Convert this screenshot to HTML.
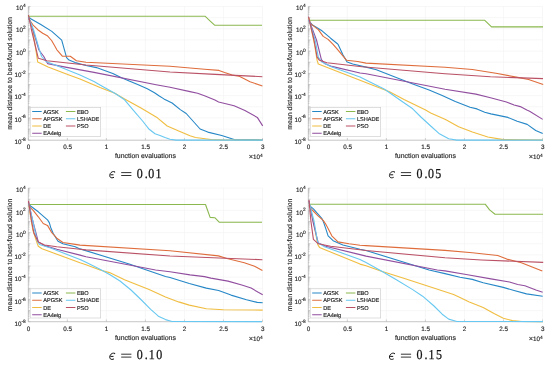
<!DOCTYPE html>
<html><head><meta charset="utf-8"><style>
html,body{margin:0;padding:0;background:#fff;}
svg{display:block;will-change:transform;text-rendering:geometricPrecision;font-family:"Liberation Sans",sans-serif;}
text{stroke:#262626;stroke-width:0.15px;}
</style></head><body>
<svg width="550" height="366" viewBox="0 0 550 366">
<rect width="550" height="366" fill="#fff"/>
<line x1="28.3" y1="6.5" x2="28.3" y2="140.2" stroke="#f2f2f2" stroke-width="0.6"/>
<line x1="67.33" y1="6.5" x2="67.33" y2="140.2" stroke="#f2f2f2" stroke-width="0.6"/>
<line x1="106.37" y1="6.5" x2="106.37" y2="140.2" stroke="#f2f2f2" stroke-width="0.6"/>
<line x1="145.4" y1="6.5" x2="145.4" y2="140.2" stroke="#f2f2f2" stroke-width="0.6"/>
<line x1="184.43" y1="6.5" x2="184.43" y2="140.2" stroke="#f2f2f2" stroke-width="0.6"/>
<line x1="223.47" y1="6.5" x2="223.47" y2="140.2" stroke="#f2f2f2" stroke-width="0.6"/>
<line x1="262.5" y1="6.5" x2="262.5" y2="140.2" stroke="#f2f2f2" stroke-width="0.6"/>
<line x1="28.3" y1="6.5" x2="262.5" y2="6.5" stroke="#f2f2f2" stroke-width="0.6"/>
<line x1="28.3" y1="17.64" x2="262.5" y2="17.64" stroke="#f2f2f2" stroke-width="0.6"/>
<line x1="28.3" y1="28.78" x2="262.5" y2="28.78" stroke="#f2f2f2" stroke-width="0.6"/>
<line x1="28.3" y1="39.92" x2="262.5" y2="39.92" stroke="#f2f2f2" stroke-width="0.6"/>
<line x1="28.3" y1="51.07" x2="262.5" y2="51.07" stroke="#f2f2f2" stroke-width="0.6"/>
<line x1="28.3" y1="62.21" x2="262.5" y2="62.21" stroke="#f2f2f2" stroke-width="0.6"/>
<line x1="28.3" y1="73.35" x2="262.5" y2="73.35" stroke="#f2f2f2" stroke-width="0.6"/>
<line x1="28.3" y1="84.49" x2="262.5" y2="84.49" stroke="#f2f2f2" stroke-width="0.6"/>
<line x1="28.3" y1="95.63" x2="262.5" y2="95.63" stroke="#f2f2f2" stroke-width="0.6"/>
<line x1="28.3" y1="106.77" x2="262.5" y2="106.77" stroke="#f2f2f2" stroke-width="0.6"/>
<line x1="28.3" y1="117.92" x2="262.5" y2="117.92" stroke="#f2f2f2" stroke-width="0.6"/>
<line x1="28.3" y1="129.06" x2="262.5" y2="129.06" stroke="#f2f2f2" stroke-width="0.6"/>
<line x1="28.3" y1="140.2" x2="262.5" y2="140.2" stroke="#f2f2f2" stroke-width="0.6"/>
<path d="M28.3 6.5V140.2H262.5" fill="none" stroke="#a8a8a8" stroke-width="0.6"/>
<path d="M28.3 17.64h2.2M28.3 14.29h1.2M28.3 12.33h1.2M28.3 10.93h1.2M28.3 9.85h1.2M28.3 8.97h1.2M28.3 8.23h1.2M28.3 7.58h1.2M28.3 7.01h1.2M28.3 28.78h2.2M28.3 25.43h1.2M28.3 23.47h1.2M28.3 22.08h1.2M28.3 21h1.2M28.3 20.11h1.2M28.3 19.37h1.2M28.3 18.72h1.2M28.3 18.15h1.2M28.3 39.92h2.2M28.3 36.57h1.2M28.3 34.61h1.2M28.3 33.22h1.2M28.3 32.14h1.2M28.3 31.26h1.2M28.3 30.51h1.2M28.3 29.86h1.2M28.3 29.29h1.2M28.3 51.07h2.2M28.3 47.71h1.2M28.3 45.75h1.2M28.3 44.36h1.2M28.3 43.28h1.2M28.3 42.4h1.2M28.3 41.65h1.2M28.3 41h1.2M28.3 40.43h1.2M28.3 62.21h2.2M28.3 58.85h1.2M28.3 56.89h1.2M28.3 55.5h1.2M28.3 54.42h1.2M28.3 53.54h1.2M28.3 52.79h1.2M28.3 52.15h1.2M28.3 51.58h1.2M28.3 73.35h2.2M28.3 70h1.2M28.3 68.03h1.2M28.3 66.64h1.2M28.3 65.56h1.2M28.3 64.68h1.2M28.3 63.93h1.2M28.3 63.29h1.2M28.3 62.72h1.2M28.3 84.49h2.2M28.3 81.14h1.2M28.3 79.18h1.2M28.3 77.78h1.2M28.3 76.7h1.2M28.3 75.82h1.2M28.3 75.08h1.2M28.3 74.43h1.2M28.3 73.86h1.2M28.3 95.63h2.2M28.3 92.28h1.2M28.3 90.32h1.2M28.3 88.93h1.2M28.3 87.85h1.2M28.3 86.96h1.2M28.3 86.22h1.2M28.3 85.57h1.2M28.3 85h1.2M28.3 106.77h2.2M28.3 103.42h1.2M28.3 101.46h1.2M28.3 100.07h1.2M28.3 98.99h1.2M28.3 98.11h1.2M28.3 97.36h1.2M28.3 96.71h1.2M28.3 96.14h1.2M28.3 117.92h2.2M28.3 114.56h1.2M28.3 112.6h1.2M28.3 111.21h1.2M28.3 110.13h1.2M28.3 109.25h1.2M28.3 108.5h1.2M28.3 107.85h1.2M28.3 107.28h1.2M28.3 129.06h2.2M28.3 125.7h1.2M28.3 123.74h1.2M28.3 122.35h1.2M28.3 121.27h1.2M28.3 120.39h1.2M28.3 119.64h1.2M28.3 119h1.2M28.3 118.43h1.2M28.3 140.2h2.2M28.3 136.85h1.2M28.3 134.88h1.2M28.3 133.49h1.2M28.3 132.41h1.2M28.3 131.53h1.2M28.3 130.78h1.2M28.3 130.14h1.2M28.3 129.57h1.2M28.3 6.5h2.2M28.3 140.2v-2.2M67.33 140.2v-2.2M106.37 140.2v-2.2M145.4 140.2v-2.2M184.43 140.2v-2.2M223.47 140.2v-2.2M262.5 140.2v-2.2" stroke="#a8a8a8" stroke-width="0.5" fill="none"/>
<path d="M28.5 17.5L40.8 24.5L51.8 31.4L61.7 40.1L66.6 57.7L69 60.1L75.2 62.6L86 65.5L96.4 67.6L112.8 73.4L121 77.6L129.2 81.1L137.7 84.6L147.3 88.7L154.5 92.7L159.3 96L163.9 98.9L172.1 103L180.3 109.6L186.2 113.5L200.1 129L207.8 132.1L221.7 135.5L226.4 137L234.1 139.6L262.7 140" fill="none" stroke="#2687c7" stroke-width="1.1" stroke-linejoin="round"/>
<path d="M28.5 18.5L29.5 19.9L32.9 24.8L37.8 29.7L42.7 33.2L47.7 36.1L51.6 40.5L54.5 45.5L57 50L58 51.2L62.3 56.2L70.3 56.2L76.4 60.7L86 62.3L170 66.3L204.5 69.3L219 70.4L224.6 72.5L232.2 75.1L239.2 76.3L243.7 78.6L250 81.7L262.4 85.9" fill="none" stroke="#df6d3c" stroke-width="1.1" stroke-linejoin="round"/>
<path d="M28.5 16L32.8 30L37.7 62L48.1 66.9L69 75L80 79L100 87.5L114.8 93.2L124.6 98.9L141 108L157.4 117.8L167.2 126L178.7 130.9L190 135.8L195.5 137.5L210.9 139.5L223.3 140L262 140" fill="none" stroke="#f0bd41" stroke-width="1.1" stroke-linejoin="round"/>
<path d="M28.5 17L33 30L38.9 50L43.8 56.5L47.6 63.6L66.7 67.4L94 72.4L157.4 85L170 87.3L190 91.6L197.6 93.2L204.5 95.8L214.9 100.1L218.6 102L234.1 105.8L244.9 110.5L257.3 117.4L262.7 125.9" fill="none" stroke="#914e9f" stroke-width="1.1" stroke-linejoin="round"/>
<path d="M28 16.2L205 16.2L210.5 21.4L214.6 25.2L262 25.2" fill="none" stroke="#8bb84f" stroke-width="1.1" stroke-linejoin="round"/>
<path d="M28.5 17L33.6 30L39.5 50L41.6 56.5L46 61.5L55.8 65.3L80 75L94 81.6L100 85L114.8 93.2L124.6 99.8L132.8 109.6L142.6 121L149.2 129.3L155 133.8L160 135.4L165 137.6L170 139.2L176 140.1L262 140.1" fill="none" stroke="#68c8f1" stroke-width="1.1" stroke-linejoin="round"/>
<path d="M28.5 15L31.5 30L38.3 58.3L46.9 60.7L86 65L170 72L215 74.4L262.4 76.7" fill="none" stroke="#ba5165" stroke-width="1.1" stroke-linejoin="round"/>
<rect x="30.2" y="107.3" width="70.5" height="29.2" fill="#fff" stroke="#c8c8c8" stroke-width="0.6"/>
<line x1="32.2" y1="111.5" x2="41.7" y2="111.5" stroke="#2687c7" stroke-width="1"/>
<text x="43.2" y="113.5" font-size="5.6" fill="#262626">AGSK</text>
<line x1="32.2" y1="118.75" x2="41.7" y2="118.75" stroke="#df6d3c" stroke-width="1"/>
<text x="43.2" y="120.75" font-size="5.6" fill="#262626">APGSK</text>
<line x1="32.2" y1="126" x2="41.7" y2="126" stroke="#f0bd41" stroke-width="1"/>
<text x="43.2" y="128" font-size="5.6" fill="#262626">DE</text>
<line x1="32.2" y1="133.25" x2="41.7" y2="133.25" stroke="#914e9f" stroke-width="1"/>
<text x="43.2" y="135.25" font-size="5.6" fill="#262626">EA4eig</text>
<line x1="65.9" y1="111.5" x2="75.4" y2="111.5" stroke="#8bb84f" stroke-width="1"/>
<text x="76.9" y="113.5" font-size="5.6" fill="#262626">EBO</text>
<line x1="65.9" y1="118.75" x2="75.4" y2="118.75" stroke="#68c8f1" stroke-width="1"/>
<text x="76.9" y="120.75" font-size="5.6" fill="#262626">LSHADE</text>
<line x1="65.9" y1="126" x2="75.4" y2="126" stroke="#ba5165" stroke-width="1"/>
<text x="76.9" y="128" font-size="5.6" fill="#262626">PSO</text>
<text x="25.7" y="10.2" font-size="6.3" fill="#262626" text-anchor="end">10<tspan dy="-3.2" font-size="4.8">4</tspan></text>
<text x="25.7" y="32.48" font-size="6.3" fill="#262626" text-anchor="end">10<tspan dy="-3.2" font-size="4.8">2</tspan></text>
<text x="25.7" y="54.77" font-size="6.3" fill="#262626" text-anchor="end">10<tspan dy="-3.2" font-size="4.8">0</tspan></text>
<text x="25.7" y="77.05" font-size="6.3" fill="#262626" text-anchor="end">10<tspan dy="-3.2" font-size="4.8">-2</tspan></text>
<text x="25.7" y="99.33" font-size="6.3" fill="#262626" text-anchor="end">10<tspan dy="-3.2" font-size="4.8">-4</tspan></text>
<text x="25.7" y="121.62" font-size="6.3" fill="#262626" text-anchor="end">10<tspan dy="-3.2" font-size="4.8">-6</tspan></text>
<text x="25.7" y="143.9" font-size="6.3" fill="#262626" text-anchor="end">10<tspan dy="-3.2" font-size="4.8">-8</tspan></text>
<text x="28.5" y="149.3" font-size="6.3" fill="#262626" text-anchor="middle">0</text>
<text x="67.53" y="149.3" font-size="6.3" fill="#262626" text-anchor="middle">0.5</text>
<text x="106.57" y="149.3" font-size="6.3" fill="#262626" text-anchor="middle">1</text>
<text x="145.6" y="149.3" font-size="6.3" fill="#262626" text-anchor="middle">1.5</text>
<text x="184.63" y="149.3" font-size="6.3" fill="#262626" text-anchor="middle">2</text>
<text x="223.67" y="149.3" font-size="6.3" fill="#262626" text-anchor="middle">2.5</text>
<text x="262.7" y="149.3" font-size="6.3" fill="#262626" text-anchor="middle">3</text>
<text x="262.7" y="159.2" font-size="6.3" fill="#262626" text-anchor="end"><tspan font-size="7.4">×</tspan>10<tspan dy="-2.0" font-size="4.8">4</tspan></text>
<text x="145.4" y="157.7" font-size="6.9" fill="#262626" text-anchor="middle">function evaluations</text>
<text transform="translate(12.1 73.35) rotate(-90)" x="0" y="0" font-size="6.9" fill="#262626" text-anchor="middle">mean distance to best-found solution</text>
<g transform="translate(109.3 177.6)" fill="none" stroke="#111">
<path d="M5.6 -5.7C4.9 -6.1 3.7 -6.2 2.7 -5.7C1.3 -5.0 0.45 -3.5 0.45 -2.1C0.45 -0.6 1.3 0.2 2.6 0.2C3.4 0.2 4.1 0 4.7 -0.35M1.1 -2.8L4.2 -2.8" stroke-width="1.0"/>
<circle cx="5.4" cy="-5.6" r="0.55" fill="#111" stroke="none"/>
<path d="M11.9 -5.0H22.1M11.9 -2.1H22.1" stroke-width="0.85"/>
</g>
<text transform="translate(136.81 177.6) scale(0.88 1)" font-family="Liberation Serif" font-size="13.6" fill="#111" style="stroke:#111;stroke-width:0.25px">0</text>
<text transform="translate(144.8 177.6) scale(0.88 1)" font-family="Liberation Serif" font-size="13.6" fill="#111" style="stroke:#111;stroke-width:0.25px">.</text>
<text transform="translate(148.31 177.6) scale(0.88 1)" font-family="Liberation Serif" font-size="13.6" fill="#111" style="stroke:#111;stroke-width:0.25px">0</text>
<text transform="translate(155.51 177.6) scale(0.88 1)" font-family="Liberation Serif" font-size="13.6" fill="#111" style="stroke:#111;stroke-width:0.25px">1</text>
<line x1="308.3" y1="6.5" x2="308.3" y2="140.2" stroke="#f2f2f2" stroke-width="0.6"/>
<line x1="347.33" y1="6.5" x2="347.33" y2="140.2" stroke="#f2f2f2" stroke-width="0.6"/>
<line x1="386.37" y1="6.5" x2="386.37" y2="140.2" stroke="#f2f2f2" stroke-width="0.6"/>
<line x1="425.4" y1="6.5" x2="425.4" y2="140.2" stroke="#f2f2f2" stroke-width="0.6"/>
<line x1="464.43" y1="6.5" x2="464.43" y2="140.2" stroke="#f2f2f2" stroke-width="0.6"/>
<line x1="503.47" y1="6.5" x2="503.47" y2="140.2" stroke="#f2f2f2" stroke-width="0.6"/>
<line x1="542.5" y1="6.5" x2="542.5" y2="140.2" stroke="#f2f2f2" stroke-width="0.6"/>
<line x1="308.3" y1="6.5" x2="542.5" y2="6.5" stroke="#f2f2f2" stroke-width="0.6"/>
<line x1="308.3" y1="17.64" x2="542.5" y2="17.64" stroke="#f2f2f2" stroke-width="0.6"/>
<line x1="308.3" y1="28.78" x2="542.5" y2="28.78" stroke="#f2f2f2" stroke-width="0.6"/>
<line x1="308.3" y1="39.92" x2="542.5" y2="39.92" stroke="#f2f2f2" stroke-width="0.6"/>
<line x1="308.3" y1="51.07" x2="542.5" y2="51.07" stroke="#f2f2f2" stroke-width="0.6"/>
<line x1="308.3" y1="62.21" x2="542.5" y2="62.21" stroke="#f2f2f2" stroke-width="0.6"/>
<line x1="308.3" y1="73.35" x2="542.5" y2="73.35" stroke="#f2f2f2" stroke-width="0.6"/>
<line x1="308.3" y1="84.49" x2="542.5" y2="84.49" stroke="#f2f2f2" stroke-width="0.6"/>
<line x1="308.3" y1="95.63" x2="542.5" y2="95.63" stroke="#f2f2f2" stroke-width="0.6"/>
<line x1="308.3" y1="106.77" x2="542.5" y2="106.77" stroke="#f2f2f2" stroke-width="0.6"/>
<line x1="308.3" y1="117.92" x2="542.5" y2="117.92" stroke="#f2f2f2" stroke-width="0.6"/>
<line x1="308.3" y1="129.06" x2="542.5" y2="129.06" stroke="#f2f2f2" stroke-width="0.6"/>
<line x1="308.3" y1="140.2" x2="542.5" y2="140.2" stroke="#f2f2f2" stroke-width="0.6"/>
<path d="M308.3 6.5V140.2H542.5" fill="none" stroke="#a8a8a8" stroke-width="0.6"/>
<path d="M308.3 17.64h2.2M308.3 14.29h1.2M308.3 12.33h1.2M308.3 10.93h1.2M308.3 9.85h1.2M308.3 8.97h1.2M308.3 8.23h1.2M308.3 7.58h1.2M308.3 7.01h1.2M308.3 28.78h2.2M308.3 25.43h1.2M308.3 23.47h1.2M308.3 22.08h1.2M308.3 21h1.2M308.3 20.11h1.2M308.3 19.37h1.2M308.3 18.72h1.2M308.3 18.15h1.2M308.3 39.92h2.2M308.3 36.57h1.2M308.3 34.61h1.2M308.3 33.22h1.2M308.3 32.14h1.2M308.3 31.26h1.2M308.3 30.51h1.2M308.3 29.86h1.2M308.3 29.29h1.2M308.3 51.07h2.2M308.3 47.71h1.2M308.3 45.75h1.2M308.3 44.36h1.2M308.3 43.28h1.2M308.3 42.4h1.2M308.3 41.65h1.2M308.3 41h1.2M308.3 40.43h1.2M308.3 62.21h2.2M308.3 58.85h1.2M308.3 56.89h1.2M308.3 55.5h1.2M308.3 54.42h1.2M308.3 53.54h1.2M308.3 52.79h1.2M308.3 52.15h1.2M308.3 51.58h1.2M308.3 73.35h2.2M308.3 70h1.2M308.3 68.03h1.2M308.3 66.64h1.2M308.3 65.56h1.2M308.3 64.68h1.2M308.3 63.93h1.2M308.3 63.29h1.2M308.3 62.72h1.2M308.3 84.49h2.2M308.3 81.14h1.2M308.3 79.18h1.2M308.3 77.78h1.2M308.3 76.7h1.2M308.3 75.82h1.2M308.3 75.08h1.2M308.3 74.43h1.2M308.3 73.86h1.2M308.3 95.63h2.2M308.3 92.28h1.2M308.3 90.32h1.2M308.3 88.93h1.2M308.3 87.85h1.2M308.3 86.96h1.2M308.3 86.22h1.2M308.3 85.57h1.2M308.3 85h1.2M308.3 106.77h2.2M308.3 103.42h1.2M308.3 101.46h1.2M308.3 100.07h1.2M308.3 98.99h1.2M308.3 98.11h1.2M308.3 97.36h1.2M308.3 96.71h1.2M308.3 96.14h1.2M308.3 117.92h2.2M308.3 114.56h1.2M308.3 112.6h1.2M308.3 111.21h1.2M308.3 110.13h1.2M308.3 109.25h1.2M308.3 108.5h1.2M308.3 107.85h1.2M308.3 107.28h1.2M308.3 129.06h2.2M308.3 125.7h1.2M308.3 123.74h1.2M308.3 122.35h1.2M308.3 121.27h1.2M308.3 120.39h1.2M308.3 119.64h1.2M308.3 119h1.2M308.3 118.43h1.2M308.3 140.2h2.2M308.3 136.85h1.2M308.3 134.88h1.2M308.3 133.49h1.2M308.3 132.41h1.2M308.3 131.53h1.2M308.3 130.78h1.2M308.3 130.14h1.2M308.3 129.57h1.2M308.3 6.5h2.2M308.3 140.2v-2.2M347.33 140.2v-2.2M386.37 140.2v-2.2M425.4 140.2v-2.2M464.43 140.2v-2.2M503.47 140.2v-2.2M542.5 140.2v-2.2" stroke="#a8a8a8" stroke-width="0.5" fill="none"/>
<path d="M309 21L312.1 24.7L322 30.8L330.6 38.2L337.4 43.7L338 44.3L342.9 54.8L347.2 62.1L352.7 64L366 67.1L376.4 69.7L414.1 84.4L429.1 90L442.2 95.5L455.3 101.5L470 107.2L477 108.9L484.7 112.3L490.9 113.9L507.9 117.4L517.2 121.3L527.2 124.4L535.7 130.5L542.7 133.6" fill="none" stroke="#2687c7" stroke-width="1.1" stroke-linejoin="round"/>
<path d="M309 22.2L313.4 25.9L318.3 29.6L323.2 36.4L328.1 39.4L333.1 44.4L336.8 48.6L346.6 60.3L357.7 61.5L366 63.1L445 67.2L472.3 69.5L495.9 73.2L517.7 77.4L528.6 79.5L543.2 84.6" fill="none" stroke="#df6d3c" stroke-width="1.1" stroke-linejoin="round"/>
<path d="M309 18L314.6 45L317.1 60.3L318.3 64L360 80.3L389.5 91.8L404.5 99.8L425.6 110L430.7 112.9L445.5 119.5L458.6 126.8L472.4 132.1L487.8 137L503.3 139.6L543 140" fill="none" stroke="#f0bd41" stroke-width="1.1" stroke-linejoin="round"/>
<path d="M309 20L316.5 40L321.4 59.7L324.5 63.4L331.8 66.4L360 73L366 73.8L445 89.2L475.9 94.1L490.5 97.7L506.4 102L514.1 105L520.3 106.6L526.8 110L529.6 111.2L542.7 119.4" fill="none" stroke="#914e9f" stroke-width="1.1" stroke-linejoin="round"/>
<path d="M309 20.3L484.8 20.3L491.5 26.9L543 26.9" fill="none" stroke="#8bb84f" stroke-width="1.1" stroke-linejoin="round"/>
<path d="M309 20L315.2 40L318.3 57.2L322 62.1L330.6 66.4L360 77L384.6 89.3L399.6 99.8L412.7 108.8L420.9 117L430.7 126L438.9 133.4L448.7 138.8L456.9 140.1L543 140.1" fill="none" stroke="#68c8f1" stroke-width="1.1" stroke-linejoin="round"/>
<path d="M308.5 16.7L314 40L317.1 57.2L319.5 60.3L326.9 62.8L362 66.8L445 73.7L490.5 76.8L543 78.6" fill="none" stroke="#ba5165" stroke-width="1.1" stroke-linejoin="round"/>
<rect x="310.2" y="107.3" width="70.5" height="29.2" fill="#fff" stroke="#c8c8c8" stroke-width="0.6"/>
<line x1="312.2" y1="111.5" x2="321.7" y2="111.5" stroke="#2687c7" stroke-width="1"/>
<text x="323.2" y="113.5" font-size="5.6" fill="#262626">AGSK</text>
<line x1="312.2" y1="118.75" x2="321.7" y2="118.75" stroke="#df6d3c" stroke-width="1"/>
<text x="323.2" y="120.75" font-size="5.6" fill="#262626">APGSK</text>
<line x1="312.2" y1="126" x2="321.7" y2="126" stroke="#f0bd41" stroke-width="1"/>
<text x="323.2" y="128" font-size="5.6" fill="#262626">DE</text>
<line x1="312.2" y1="133.25" x2="321.7" y2="133.25" stroke="#914e9f" stroke-width="1"/>
<text x="323.2" y="135.25" font-size="5.6" fill="#262626">EA4eig</text>
<line x1="345.9" y1="111.5" x2="355.4" y2="111.5" stroke="#8bb84f" stroke-width="1"/>
<text x="356.9" y="113.5" font-size="5.6" fill="#262626">EBO</text>
<line x1="345.9" y1="118.75" x2="355.4" y2="118.75" stroke="#68c8f1" stroke-width="1"/>
<text x="356.9" y="120.75" font-size="5.6" fill="#262626">LSHADE</text>
<line x1="345.9" y1="126" x2="355.4" y2="126" stroke="#ba5165" stroke-width="1"/>
<text x="356.9" y="128" font-size="5.6" fill="#262626">PSO</text>
<text x="305.7" y="10.2" font-size="6.3" fill="#262626" text-anchor="end">10<tspan dy="-3.2" font-size="4.8">4</tspan></text>
<text x="305.7" y="32.48" font-size="6.3" fill="#262626" text-anchor="end">10<tspan dy="-3.2" font-size="4.8">2</tspan></text>
<text x="305.7" y="54.77" font-size="6.3" fill="#262626" text-anchor="end">10<tspan dy="-3.2" font-size="4.8">0</tspan></text>
<text x="305.7" y="77.05" font-size="6.3" fill="#262626" text-anchor="end">10<tspan dy="-3.2" font-size="4.8">-2</tspan></text>
<text x="305.7" y="99.33" font-size="6.3" fill="#262626" text-anchor="end">10<tspan dy="-3.2" font-size="4.8">-4</tspan></text>
<text x="305.7" y="121.62" font-size="6.3" fill="#262626" text-anchor="end">10<tspan dy="-3.2" font-size="4.8">-6</tspan></text>
<text x="305.7" y="143.9" font-size="6.3" fill="#262626" text-anchor="end">10<tspan dy="-3.2" font-size="4.8">-8</tspan></text>
<text x="308.5" y="149.3" font-size="6.3" fill="#262626" text-anchor="middle">0</text>
<text x="347.53" y="149.3" font-size="6.3" fill="#262626" text-anchor="middle">0.5</text>
<text x="386.57" y="149.3" font-size="6.3" fill="#262626" text-anchor="middle">1</text>
<text x="425.6" y="149.3" font-size="6.3" fill="#262626" text-anchor="middle">1.5</text>
<text x="464.63" y="149.3" font-size="6.3" fill="#262626" text-anchor="middle">2</text>
<text x="503.67" y="149.3" font-size="6.3" fill="#262626" text-anchor="middle">2.5</text>
<text x="542.7" y="149.3" font-size="6.3" fill="#262626" text-anchor="middle">3</text>
<text x="542.7" y="159.2" font-size="6.3" fill="#262626" text-anchor="end"><tspan font-size="7.4">×</tspan>10<tspan dy="-2.0" font-size="4.8">4</tspan></text>
<text x="425.4" y="157.7" font-size="6.9" fill="#262626" text-anchor="middle">function evaluations</text>
<text transform="translate(292.1 73.35) rotate(-90)" x="0" y="0" font-size="6.9" fill="#262626" text-anchor="middle">mean distance to best-found solution</text>
<g transform="translate(389 177.6)" fill="none" stroke="#111">
<path d="M5.6 -5.7C4.9 -6.1 3.7 -6.2 2.7 -5.7C1.3 -5.0 0.45 -3.5 0.45 -2.1C0.45 -0.6 1.3 0.2 2.6 0.2C3.4 0.2 4.1 0 4.7 -0.35M1.1 -2.8L4.2 -2.8" stroke-width="1.0"/>
<circle cx="5.4" cy="-5.6" r="0.55" fill="#111" stroke="none"/>
<path d="M11.9 -5.0H22.1M11.9 -2.1H22.1" stroke-width="0.85"/>
</g>
<text transform="translate(416.51 177.6) scale(0.88 1)" font-family="Liberation Serif" font-size="13.6" fill="#111" style="stroke:#111;stroke-width:0.25px">0</text>
<text transform="translate(424.5 177.6) scale(0.88 1)" font-family="Liberation Serif" font-size="13.6" fill="#111" style="stroke:#111;stroke-width:0.25px">.</text>
<text transform="translate(428.01 177.6) scale(0.88 1)" font-family="Liberation Serif" font-size="13.6" fill="#111" style="stroke:#111;stroke-width:0.25px">0</text>
<text transform="translate(435.31 177.6) scale(0.88 1)" font-family="Liberation Serif" font-size="13.6" fill="#111" style="stroke:#111;stroke-width:0.25px">5</text>
<line x1="28.3" y1="188.1" x2="28.3" y2="321.7" stroke="#f2f2f2" stroke-width="0.6"/>
<line x1="67.33" y1="188.1" x2="67.33" y2="321.7" stroke="#f2f2f2" stroke-width="0.6"/>
<line x1="106.37" y1="188.1" x2="106.37" y2="321.7" stroke="#f2f2f2" stroke-width="0.6"/>
<line x1="145.4" y1="188.1" x2="145.4" y2="321.7" stroke="#f2f2f2" stroke-width="0.6"/>
<line x1="184.43" y1="188.1" x2="184.43" y2="321.7" stroke="#f2f2f2" stroke-width="0.6"/>
<line x1="223.47" y1="188.1" x2="223.47" y2="321.7" stroke="#f2f2f2" stroke-width="0.6"/>
<line x1="262.5" y1="188.1" x2="262.5" y2="321.7" stroke="#f2f2f2" stroke-width="0.6"/>
<line x1="28.3" y1="188.1" x2="262.5" y2="188.1" stroke="#f2f2f2" stroke-width="0.6"/>
<line x1="28.3" y1="199.23" x2="262.5" y2="199.23" stroke="#f2f2f2" stroke-width="0.6"/>
<line x1="28.3" y1="210.37" x2="262.5" y2="210.37" stroke="#f2f2f2" stroke-width="0.6"/>
<line x1="28.3" y1="221.5" x2="262.5" y2="221.5" stroke="#f2f2f2" stroke-width="0.6"/>
<line x1="28.3" y1="232.63" x2="262.5" y2="232.63" stroke="#f2f2f2" stroke-width="0.6"/>
<line x1="28.3" y1="243.77" x2="262.5" y2="243.77" stroke="#f2f2f2" stroke-width="0.6"/>
<line x1="28.3" y1="254.9" x2="262.5" y2="254.9" stroke="#f2f2f2" stroke-width="0.6"/>
<line x1="28.3" y1="266.03" x2="262.5" y2="266.03" stroke="#f2f2f2" stroke-width="0.6"/>
<line x1="28.3" y1="277.17" x2="262.5" y2="277.17" stroke="#f2f2f2" stroke-width="0.6"/>
<line x1="28.3" y1="288.3" x2="262.5" y2="288.3" stroke="#f2f2f2" stroke-width="0.6"/>
<line x1="28.3" y1="299.43" x2="262.5" y2="299.43" stroke="#f2f2f2" stroke-width="0.6"/>
<line x1="28.3" y1="310.57" x2="262.5" y2="310.57" stroke="#f2f2f2" stroke-width="0.6"/>
<line x1="28.3" y1="321.7" x2="262.5" y2="321.7" stroke="#f2f2f2" stroke-width="0.6"/>
<path d="M28.3 188.1V321.7H262.5" fill="none" stroke="#a8a8a8" stroke-width="0.6"/>
<path d="M28.3 199.23h2.2M28.3 195.88h1.2M28.3 193.92h1.2M28.3 192.53h1.2M28.3 191.45h1.2M28.3 190.57h1.2M28.3 189.82h1.2M28.3 189.18h1.2M28.3 188.61h1.2M28.3 210.37h2.2M28.3 207.02h1.2M28.3 205.05h1.2M28.3 203.66h1.2M28.3 202.58h1.2M28.3 201.7h1.2M28.3 200.96h1.2M28.3 200.31h1.2M28.3 199.74h1.2M28.3 221.5h2.2M28.3 218.15h1.2M28.3 216.19h1.2M28.3 214.8h1.2M28.3 213.72h1.2M28.3 212.84h1.2M28.3 212.09h1.2M28.3 211.45h1.2M28.3 210.88h1.2M28.3 232.63h2.2M28.3 229.28h1.2M28.3 227.32h1.2M28.3 225.93h1.2M28.3 224.85h1.2M28.3 223.97h1.2M28.3 223.22h1.2M28.3 222.58h1.2M28.3 222.01h1.2M28.3 243.77h2.2M28.3 240.42h1.2M28.3 238.45h1.2M28.3 237.06h1.2M28.3 235.98h1.2M28.3 235.1h1.2M28.3 234.36h1.2M28.3 233.71h1.2M28.3 233.14h1.2M28.3 254.9h2.2M28.3 251.55h1.2M28.3 249.59h1.2M28.3 248.2h1.2M28.3 247.12h1.2M28.3 246.24h1.2M28.3 245.49h1.2M28.3 244.85h1.2M28.3 244.28h1.2M28.3 266.03h2.2M28.3 262.68h1.2M28.3 260.72h1.2M28.3 259.33h1.2M28.3 258.25h1.2M28.3 257.37h1.2M28.3 256.62h1.2M28.3 255.98h1.2M28.3 255.41h1.2M28.3 277.17h2.2M28.3 273.82h1.2M28.3 271.85h1.2M28.3 270.46h1.2M28.3 269.38h1.2M28.3 268.5h1.2M28.3 267.76h1.2M28.3 267.11h1.2M28.3 266.54h1.2M28.3 288.3h2.2M28.3 284.95h1.2M28.3 282.99h1.2M28.3 281.6h1.2M28.3 280.52h1.2M28.3 279.64h1.2M28.3 278.89h1.2M28.3 278.25h1.2M28.3 277.68h1.2M28.3 299.43h2.2M28.3 296.08h1.2M28.3 294.12h1.2M28.3 292.73h1.2M28.3 291.65h1.2M28.3 290.77h1.2M28.3 290.02h1.2M28.3 289.38h1.2M28.3 288.81h1.2M28.3 310.57h2.2M28.3 307.22h1.2M28.3 305.25h1.2M28.3 303.86h1.2M28.3 302.78h1.2M28.3 301.9h1.2M28.3 301.16h1.2M28.3 300.51h1.2M28.3 299.94h1.2M28.3 321.7h2.2M28.3 318.35h1.2M28.3 316.39h1.2M28.3 315h1.2M28.3 313.92h1.2M28.3 313.04h1.2M28.3 312.29h1.2M28.3 311.65h1.2M28.3 311.08h1.2M28.3 188.1h2.2M28.3 321.7v-2.2M67.33 321.7v-2.2M106.37 321.7v-2.2M145.4 321.7v-2.2M184.43 321.7v-2.2M223.47 321.7v-2.2M262.5 321.7v-2.2" stroke="#a8a8a8" stroke-width="0.5" fill="none"/>
<path d="M28.5 204.5L38.3 211.8L47.5 219.8L49.4 222.9L50.6 227.2L53.1 233.3L58 241.3L62.9 243.8L75.2 246.8L80 248.9L129.2 264L145.8 269.8L165.5 276.5L170 277.5L189.3 283.5L206.3 288.1L218.6 290.5L231 295.1L246.5 299.7L257.3 302.4L262.7 302.8" fill="none" stroke="#2687c7" stroke-width="1.1" stroke-linejoin="round"/>
<path d="M28.5 205.7L33.4 210.6L38.3 216.8L43.2 223.5L47.5 225.4L51.8 232.7L56.8 238.2L62.9 242.5L75.2 244.4L80 245.1L170 250.7L218.4 255.9L227 258.5L244.3 262.8L254.6 266.3L262.4 270.6" fill="none" stroke="#df6d3c" stroke-width="1.1" stroke-linejoin="round"/>
<path d="M28.5 203L32.8 230L37.1 243.1L38.3 246.2L42 248.7L80 262.8L86 264.7L100 270L109.5 272.6L124.5 279.8L149.1 289.6L165.5 297L178.6 301.9L189.3 305.1L206.3 308.7L223.3 309.8L262.7 310.1" fill="none" stroke="#f0bd41" stroke-width="1.1" stroke-linejoin="round"/>
<path d="M28.5 202L32.8 221L38.3 241.9L44.5 245.6L56.8 249.3L80 255.1L86 256.7L155.6 270L170 271.8L190 274.9L204.5 276.6L210.9 278.1L228 281.1L241.8 285L251.1 288.1L262.7 294.8" fill="none" stroke="#914e9f" stroke-width="1.1" stroke-linejoin="round"/>
<path d="M28 204.5L205.5 204.5L210.1 217.4L214.8 217.7L219.4 222.3L262 222.3" fill="none" stroke="#8bb84f" stroke-width="1.1" stroke-linejoin="round"/>
<path d="M28.5 203L32.8 221L37.1 240.7L39.5 244.4L50.6 248.1L80 259.5L86 262.3L100 269.3L110 274.8L120 281L131 290L140.9 299.5L150.7 309.3L158.9 316.6L165.5 319.6L172 321.5L262 321.6" fill="none" stroke="#68c8f1" stroke-width="1.1" stroke-linejoin="round"/>
<path d="M28.5 200.8L31.5 221L34 233.3L38.3 241.9L44.5 245L56.8 246.8L80 249.2L86 249.9L170 256L262.4 259.7" fill="none" stroke="#ba5165" stroke-width="1.1" stroke-linejoin="round"/>
<rect x="30.2" y="288.8" width="70.5" height="29.2" fill="#fff" stroke="#c8c8c8" stroke-width="0.6"/>
<line x1="32.2" y1="293" x2="41.7" y2="293" stroke="#2687c7" stroke-width="1"/>
<text x="43.2" y="295" font-size="5.6" fill="#262626">AGSK</text>
<line x1="32.2" y1="300.25" x2="41.7" y2="300.25" stroke="#df6d3c" stroke-width="1"/>
<text x="43.2" y="302.25" font-size="5.6" fill="#262626">APGSK</text>
<line x1="32.2" y1="307.5" x2="41.7" y2="307.5" stroke="#f0bd41" stroke-width="1"/>
<text x="43.2" y="309.5" font-size="5.6" fill="#262626">DE</text>
<line x1="32.2" y1="314.75" x2="41.7" y2="314.75" stroke="#914e9f" stroke-width="1"/>
<text x="43.2" y="316.75" font-size="5.6" fill="#262626">EA4eig</text>
<line x1="65.9" y1="293" x2="75.4" y2="293" stroke="#8bb84f" stroke-width="1"/>
<text x="76.9" y="295" font-size="5.6" fill="#262626">EBO</text>
<line x1="65.9" y1="300.25" x2="75.4" y2="300.25" stroke="#68c8f1" stroke-width="1"/>
<text x="76.9" y="302.25" font-size="5.6" fill="#262626">LSHADE</text>
<line x1="65.9" y1="307.5" x2="75.4" y2="307.5" stroke="#ba5165" stroke-width="1"/>
<text x="76.9" y="309.5" font-size="5.6" fill="#262626">PSO</text>
<text x="25.7" y="192.4" font-size="6.3" fill="#262626" text-anchor="end">10<tspan dy="-3.2" font-size="4.8">4</tspan></text>
<text x="25.7" y="214.67" font-size="6.3" fill="#262626" text-anchor="end">10<tspan dy="-3.2" font-size="4.8">2</tspan></text>
<text x="25.7" y="236.93" font-size="6.3" fill="#262626" text-anchor="end">10<tspan dy="-3.2" font-size="4.8">0</tspan></text>
<text x="25.7" y="259.2" font-size="6.3" fill="#262626" text-anchor="end">10<tspan dy="-3.2" font-size="4.8">-2</tspan></text>
<text x="25.7" y="281.47" font-size="6.3" fill="#262626" text-anchor="end">10<tspan dy="-3.2" font-size="4.8">-4</tspan></text>
<text x="25.7" y="303.73" font-size="6.3" fill="#262626" text-anchor="end">10<tspan dy="-3.2" font-size="4.8">-6</tspan></text>
<text x="25.7" y="326" font-size="6.3" fill="#262626" text-anchor="end">10<tspan dy="-3.2" font-size="4.8">-8</tspan></text>
<text x="28.5" y="331.4" font-size="6.3" fill="#262626" text-anchor="middle">0</text>
<text x="67.53" y="331.4" font-size="6.3" fill="#262626" text-anchor="middle">0.5</text>
<text x="106.57" y="331.4" font-size="6.3" fill="#262626" text-anchor="middle">1</text>
<text x="145.6" y="331.4" font-size="6.3" fill="#262626" text-anchor="middle">1.5</text>
<text x="184.63" y="331.4" font-size="6.3" fill="#262626" text-anchor="middle">2</text>
<text x="223.67" y="331.4" font-size="6.3" fill="#262626" text-anchor="middle">2.5</text>
<text x="262.7" y="331.4" font-size="6.3" fill="#262626" text-anchor="middle">3</text>
<text x="262.7" y="341.3" font-size="6.3" fill="#262626" text-anchor="end"><tspan font-size="7.4">×</tspan>10<tspan dy="-2.0" font-size="4.8">4</tspan></text>
<text x="145.4" y="339.8" font-size="6.9" fill="#262626" text-anchor="middle">function evaluations</text>
<text transform="translate(12.1 254.9) rotate(-90)" x="0" y="0" font-size="6.9" fill="#262626" text-anchor="middle">mean distance to best-found solution</text>
<g transform="translate(109.3 359.2)" fill="none" stroke="#111">
<path d="M5.6 -5.7C4.9 -6.1 3.7 -6.2 2.7 -5.7C1.3 -5.0 0.45 -3.5 0.45 -2.1C0.45 -0.6 1.3 0.2 2.6 0.2C3.4 0.2 4.1 0 4.7 -0.35M1.1 -2.8L4.2 -2.8" stroke-width="1.0"/>
<circle cx="5.4" cy="-5.6" r="0.55" fill="#111" stroke="none"/>
<path d="M11.9 -5.0H22.1M11.9 -2.1H22.1" stroke-width="0.85"/>
</g>
<text transform="translate(136.81 359.2) scale(0.88 1)" font-family="Liberation Serif" font-size="13.6" fill="#111" style="stroke:#111;stroke-width:0.25px">0</text>
<text transform="translate(144.8 359.2) scale(0.88 1)" font-family="Liberation Serif" font-size="13.6" fill="#111" style="stroke:#111;stroke-width:0.25px">.</text>
<text transform="translate(148.71 359.2) scale(0.88 1)" font-family="Liberation Serif" font-size="13.6" fill="#111" style="stroke:#111;stroke-width:0.25px">1</text>
<text transform="translate(156.31 359.2) scale(0.88 1)" font-family="Liberation Serif" font-size="13.6" fill="#111" style="stroke:#111;stroke-width:0.25px">0</text>
<line x1="308.3" y1="188.1" x2="308.3" y2="321.7" stroke="#f2f2f2" stroke-width="0.6"/>
<line x1="347.33" y1="188.1" x2="347.33" y2="321.7" stroke="#f2f2f2" stroke-width="0.6"/>
<line x1="386.37" y1="188.1" x2="386.37" y2="321.7" stroke="#f2f2f2" stroke-width="0.6"/>
<line x1="425.4" y1="188.1" x2="425.4" y2="321.7" stroke="#f2f2f2" stroke-width="0.6"/>
<line x1="464.43" y1="188.1" x2="464.43" y2="321.7" stroke="#f2f2f2" stroke-width="0.6"/>
<line x1="503.47" y1="188.1" x2="503.47" y2="321.7" stroke="#f2f2f2" stroke-width="0.6"/>
<line x1="542.5" y1="188.1" x2="542.5" y2="321.7" stroke="#f2f2f2" stroke-width="0.6"/>
<line x1="308.3" y1="188.1" x2="542.5" y2="188.1" stroke="#f2f2f2" stroke-width="0.6"/>
<line x1="308.3" y1="199.23" x2="542.5" y2="199.23" stroke="#f2f2f2" stroke-width="0.6"/>
<line x1="308.3" y1="210.37" x2="542.5" y2="210.37" stroke="#f2f2f2" stroke-width="0.6"/>
<line x1="308.3" y1="221.5" x2="542.5" y2="221.5" stroke="#f2f2f2" stroke-width="0.6"/>
<line x1="308.3" y1="232.63" x2="542.5" y2="232.63" stroke="#f2f2f2" stroke-width="0.6"/>
<line x1="308.3" y1="243.77" x2="542.5" y2="243.77" stroke="#f2f2f2" stroke-width="0.6"/>
<line x1="308.3" y1="254.9" x2="542.5" y2="254.9" stroke="#f2f2f2" stroke-width="0.6"/>
<line x1="308.3" y1="266.03" x2="542.5" y2="266.03" stroke="#f2f2f2" stroke-width="0.6"/>
<line x1="308.3" y1="277.17" x2="542.5" y2="277.17" stroke="#f2f2f2" stroke-width="0.6"/>
<line x1="308.3" y1="288.3" x2="542.5" y2="288.3" stroke="#f2f2f2" stroke-width="0.6"/>
<line x1="308.3" y1="299.43" x2="542.5" y2="299.43" stroke="#f2f2f2" stroke-width="0.6"/>
<line x1="308.3" y1="310.57" x2="542.5" y2="310.57" stroke="#f2f2f2" stroke-width="0.6"/>
<line x1="308.3" y1="321.7" x2="542.5" y2="321.7" stroke="#f2f2f2" stroke-width="0.6"/>
<path d="M308.3 188.1V321.7H542.5" fill="none" stroke="#a8a8a8" stroke-width="0.6"/>
<path d="M308.3 199.23h2.2M308.3 195.88h1.2M308.3 193.92h1.2M308.3 192.53h1.2M308.3 191.45h1.2M308.3 190.57h1.2M308.3 189.82h1.2M308.3 189.18h1.2M308.3 188.61h1.2M308.3 210.37h2.2M308.3 207.02h1.2M308.3 205.05h1.2M308.3 203.66h1.2M308.3 202.58h1.2M308.3 201.7h1.2M308.3 200.96h1.2M308.3 200.31h1.2M308.3 199.74h1.2M308.3 221.5h2.2M308.3 218.15h1.2M308.3 216.19h1.2M308.3 214.8h1.2M308.3 213.72h1.2M308.3 212.84h1.2M308.3 212.09h1.2M308.3 211.45h1.2M308.3 210.88h1.2M308.3 232.63h2.2M308.3 229.28h1.2M308.3 227.32h1.2M308.3 225.93h1.2M308.3 224.85h1.2M308.3 223.97h1.2M308.3 223.22h1.2M308.3 222.58h1.2M308.3 222.01h1.2M308.3 243.77h2.2M308.3 240.42h1.2M308.3 238.45h1.2M308.3 237.06h1.2M308.3 235.98h1.2M308.3 235.1h1.2M308.3 234.36h1.2M308.3 233.71h1.2M308.3 233.14h1.2M308.3 254.9h2.2M308.3 251.55h1.2M308.3 249.59h1.2M308.3 248.2h1.2M308.3 247.12h1.2M308.3 246.24h1.2M308.3 245.49h1.2M308.3 244.85h1.2M308.3 244.28h1.2M308.3 266.03h2.2M308.3 262.68h1.2M308.3 260.72h1.2M308.3 259.33h1.2M308.3 258.25h1.2M308.3 257.37h1.2M308.3 256.62h1.2M308.3 255.98h1.2M308.3 255.41h1.2M308.3 277.17h2.2M308.3 273.82h1.2M308.3 271.85h1.2M308.3 270.46h1.2M308.3 269.38h1.2M308.3 268.5h1.2M308.3 267.76h1.2M308.3 267.11h1.2M308.3 266.54h1.2M308.3 288.3h2.2M308.3 284.95h1.2M308.3 282.99h1.2M308.3 281.6h1.2M308.3 280.52h1.2M308.3 279.64h1.2M308.3 278.89h1.2M308.3 278.25h1.2M308.3 277.68h1.2M308.3 299.43h2.2M308.3 296.08h1.2M308.3 294.12h1.2M308.3 292.73h1.2M308.3 291.65h1.2M308.3 290.77h1.2M308.3 290.02h1.2M308.3 289.38h1.2M308.3 288.81h1.2M308.3 310.57h2.2M308.3 307.22h1.2M308.3 305.25h1.2M308.3 303.86h1.2M308.3 302.78h1.2M308.3 301.9h1.2M308.3 301.16h1.2M308.3 300.51h1.2M308.3 299.94h1.2M308.3 321.7h2.2M308.3 318.35h1.2M308.3 316.39h1.2M308.3 315h1.2M308.3 313.92h1.2M308.3 313.04h1.2M308.3 312.29h1.2M308.3 311.65h1.2M308.3 311.08h1.2M308.3 188.1h2.2M308.3 321.7v-2.2M347.33 321.7v-2.2M386.37 321.7v-2.2M425.4 321.7v-2.2M464.43 321.7v-2.2M503.47 321.7v-2.2M542.5 321.7v-2.2" stroke="#a8a8a8" stroke-width="0.5" fill="none"/>
<path d="M309 205.1L313.4 208.8L322 218.6L323.8 222.9L325.7 228.4L328.1 235.8L333.1 240.7L342.9 245L360 249.2L366 250.5L429.1 270L445 273.6L460 277.3L472.3 279.4L483.2 282.7L503.3 287.4L514.1 290.5L526.5 293.9L542.7 296.2" fill="none" stroke="#2687c7" stroke-width="1.1" stroke-linejoin="round"/>
<path d="M309 205.7L312.2 210L318.3 216.1L323.2 220.4L325.7 224.1L328.1 228.4L331.8 235.8L338 241.9L349 243.8L360 245.2L366 245.6L445 250.4L472.3 252.7L497.7 255.5L506.8 259.1L521.4 262.7L542.3 270.9" fill="none" stroke="#df6d3c" stroke-width="1.1" stroke-linejoin="round"/>
<path d="M309 202L313.4 221L317.7 244.4L319.5 247.4L360 264.1L366 265.8L380 270.8L404.5 278.5L429.1 286.4L453.6 294.5L460 297.4L469.3 302L483.2 307.5L494 313.6L503.3 318.3L512.5 320.6L521.8 321.5L543 321.6" fill="none" stroke="#f0bd41" stroke-width="1.1" stroke-linejoin="round"/>
<path d="M309 201L312.8 221L318.3 243.1L325.7 246.2L360 254.6L366 256.1L437.3 270L445 270.9L466.2 274.5L490.9 278.9L509.5 282L517.7 284.5L524.9 285.8L535.9 290L542.7 292.3" fill="none" stroke="#914e9f" stroke-width="1.1" stroke-linejoin="round"/>
<path d="M309 204.2L485.2 204.2L489.6 209.9L495 214.2L543 214.2" fill="none" stroke="#8bb84f" stroke-width="1.1" stroke-linejoin="round"/>
<path d="M309 202L314 221L317.7 242.5L324.5 246.8L360 259.5L366 262.6L380 270.2L396.4 279.8L412.7 289.6L422.6 296.2L434 306L442.2 314.2L448.7 319.1L456.9 321.5L543 321.6" fill="none" stroke="#68c8f1" stroke-width="1.1" stroke-linejoin="round"/>
<path d="M309 200L310.9 221L313.4 239.4L318.3 243.8L330.6 246.2L360 249.7L366 250.5L445 257.8L481.4 260L543.2 262.4" fill="none" stroke="#ba5165" stroke-width="1.1" stroke-linejoin="round"/>
<rect x="310.2" y="288.8" width="70.5" height="29.2" fill="#fff" stroke="#c8c8c8" stroke-width="0.6"/>
<line x1="312.2" y1="293" x2="321.7" y2="293" stroke="#2687c7" stroke-width="1"/>
<text x="323.2" y="295" font-size="5.6" fill="#262626">AGSK</text>
<line x1="312.2" y1="300.25" x2="321.7" y2="300.25" stroke="#df6d3c" stroke-width="1"/>
<text x="323.2" y="302.25" font-size="5.6" fill="#262626">APGSK</text>
<line x1="312.2" y1="307.5" x2="321.7" y2="307.5" stroke="#f0bd41" stroke-width="1"/>
<text x="323.2" y="309.5" font-size="5.6" fill="#262626">DE</text>
<line x1="312.2" y1="314.75" x2="321.7" y2="314.75" stroke="#914e9f" stroke-width="1"/>
<text x="323.2" y="316.75" font-size="5.6" fill="#262626">EA4eig</text>
<line x1="345.9" y1="293" x2="355.4" y2="293" stroke="#8bb84f" stroke-width="1"/>
<text x="356.9" y="295" font-size="5.6" fill="#262626">EBO</text>
<line x1="345.9" y1="300.25" x2="355.4" y2="300.25" stroke="#68c8f1" stroke-width="1"/>
<text x="356.9" y="302.25" font-size="5.6" fill="#262626">LSHADE</text>
<line x1="345.9" y1="307.5" x2="355.4" y2="307.5" stroke="#ba5165" stroke-width="1"/>
<text x="356.9" y="309.5" font-size="5.6" fill="#262626">PSO</text>
<text x="305.7" y="192.4" font-size="6.3" fill="#262626" text-anchor="end">10<tspan dy="-3.2" font-size="4.8">4</tspan></text>
<text x="305.7" y="214.67" font-size="6.3" fill="#262626" text-anchor="end">10<tspan dy="-3.2" font-size="4.8">2</tspan></text>
<text x="305.7" y="236.93" font-size="6.3" fill="#262626" text-anchor="end">10<tspan dy="-3.2" font-size="4.8">0</tspan></text>
<text x="305.7" y="259.2" font-size="6.3" fill="#262626" text-anchor="end">10<tspan dy="-3.2" font-size="4.8">-2</tspan></text>
<text x="305.7" y="281.47" font-size="6.3" fill="#262626" text-anchor="end">10<tspan dy="-3.2" font-size="4.8">-4</tspan></text>
<text x="305.7" y="303.73" font-size="6.3" fill="#262626" text-anchor="end">10<tspan dy="-3.2" font-size="4.8">-6</tspan></text>
<text x="305.7" y="326" font-size="6.3" fill="#262626" text-anchor="end">10<tspan dy="-3.2" font-size="4.8">-8</tspan></text>
<text x="308.5" y="331.4" font-size="6.3" fill="#262626" text-anchor="middle">0</text>
<text x="347.53" y="331.4" font-size="6.3" fill="#262626" text-anchor="middle">0.5</text>
<text x="386.57" y="331.4" font-size="6.3" fill="#262626" text-anchor="middle">1</text>
<text x="425.6" y="331.4" font-size="6.3" fill="#262626" text-anchor="middle">1.5</text>
<text x="464.63" y="331.4" font-size="6.3" fill="#262626" text-anchor="middle">2</text>
<text x="503.67" y="331.4" font-size="6.3" fill="#262626" text-anchor="middle">2.5</text>
<text x="542.7" y="331.4" font-size="6.3" fill="#262626" text-anchor="middle">3</text>
<text x="542.7" y="341.3" font-size="6.3" fill="#262626" text-anchor="end"><tspan font-size="7.4">×</tspan>10<tspan dy="-2.0" font-size="4.8">4</tspan></text>
<text x="425.4" y="339.8" font-size="6.9" fill="#262626" text-anchor="middle">function evaluations</text>
<text transform="translate(292.1 254.9) rotate(-90)" x="0" y="0" font-size="6.9" fill="#262626" text-anchor="middle">mean distance to best-found solution</text>
<g transform="translate(389 359.2)" fill="none" stroke="#111">
<path d="M5.6 -5.7C4.9 -6.1 3.7 -6.2 2.7 -5.7C1.3 -5.0 0.45 -3.5 0.45 -2.1C0.45 -0.6 1.3 0.2 2.6 0.2C3.4 0.2 4.1 0 4.7 -0.35M1.1 -2.8L4.2 -2.8" stroke-width="1.0"/>
<circle cx="5.4" cy="-5.6" r="0.55" fill="#111" stroke="none"/>
<path d="M11.9 -5.0H22.1M11.9 -2.1H22.1" stroke-width="0.85"/>
</g>
<text transform="translate(416.51 359.2) scale(0.88 1)" font-family="Liberation Serif" font-size="13.6" fill="#111" style="stroke:#111;stroke-width:0.25px">0</text>
<text transform="translate(424.5 359.2) scale(0.88 1)" font-family="Liberation Serif" font-size="13.6" fill="#111" style="stroke:#111;stroke-width:0.25px">.</text>
<text transform="translate(428.51 359.2) scale(0.88 1)" font-family="Liberation Serif" font-size="13.6" fill="#111" style="stroke:#111;stroke-width:0.25px">1</text>
<text transform="translate(435.91 359.2) scale(0.88 1)" font-family="Liberation Serif" font-size="13.6" fill="#111" style="stroke:#111;stroke-width:0.25px">5</text>
</svg>
</body></html>
